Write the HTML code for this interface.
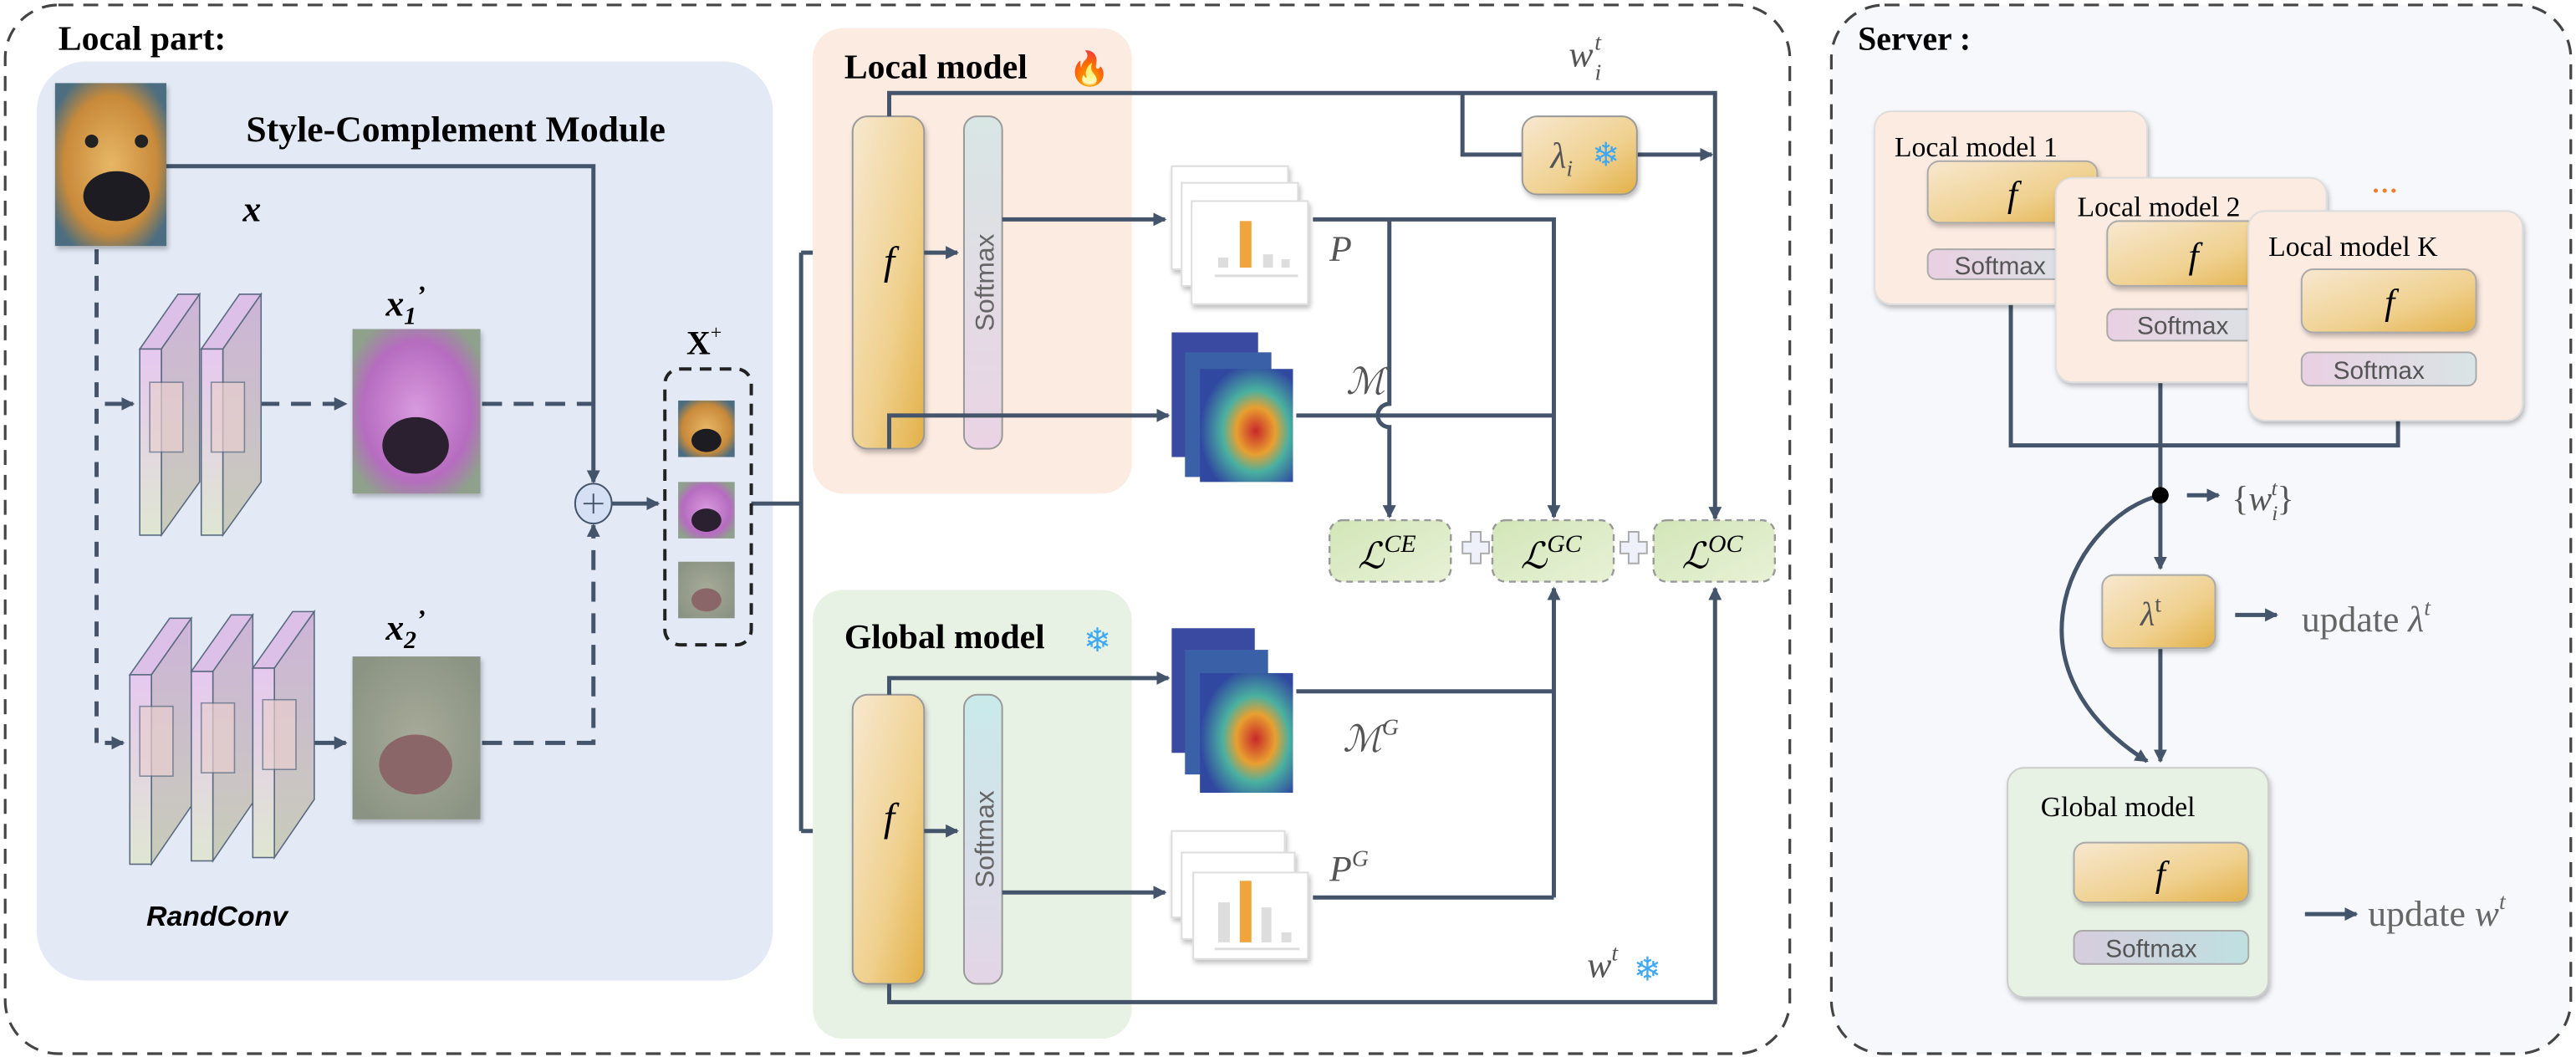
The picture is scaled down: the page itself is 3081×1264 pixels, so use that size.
<!DOCTYPE html>
<html><head><meta charset="utf-8"><style>
html,body{margin:0;padding:0;background:#fff;}
svg{display:block;}
</style></head><body>
<svg width="3081" height="1264" viewBox="0 0 1550 636" xmlns="http://www.w3.org/2000/svg" font-family="Liberation Serif, serif">
<defs>
<linearGradient id="gold" x1="0" y1="0" x2="1" y2="1"><stop offset="0" stop-color="#f7e8d0"/><stop offset="0.6" stop-color="#efd08e"/><stop offset="1" stop-color="#e3b048"/></linearGradient>
<linearGradient id="smL" x1="0" y1="0" x2="0" y2="1"><stop offset="0" stop-color="#d8e6e4"/><stop offset="1" stop-color="#ead3e4"/></linearGradient>
<linearGradient id="smG" x1="0" y1="0" x2="0" y2="1"><stop offset="0" stop-color="#c9eaea"/><stop offset="1" stop-color="#e3d5e6"/></linearGradient>
<linearGradient id="smH" x1="0" y1="0" x2="1" y2="0"><stop offset="0" stop-color="#e9d0e2"/><stop offset="1" stop-color="#d9e4e6"/></linearGradient>
<linearGradient id="smH2" x1="0" y1="0" x2="1" y2="0"><stop offset="0" stop-color="#d6cddd"/><stop offset="1" stop-color="#bfe0e0"/></linearGradient>
<linearGradient id="loss" x1="0" y1="0" x2="1" y2="1"><stop offset="0" stop-color="#d2e6b8"/><stop offset="1" stop-color="#e8f1d6"/></linearGradient>
<linearGradient id="slab" x1="0" y1="0" x2="0" y2="1"><stop offset="0" stop-color="#e6c8ef"/><stop offset="1" stop-color="#dfe6d2"/></linearGradient>
<linearGradient id="slabS" x1="0" y1="0" x2="0" y2="1"><stop offset="0" stop-color="#cdb4d8"/><stop offset="1" stop-color="#c8ccba"/></linearGradient>
<radialGradient id="dog" cx="0.5" cy="0.5" r="0.6"><stop offset="0" stop-color="#e7b766"/><stop offset="0.7" stop-color="#c88a3a"/><stop offset="1" stop-color="#4d6e80"/></radialGradient>
<radialGradient id="dogP" cx="0.5" cy="0.5" r="0.6"><stop offset="0" stop-color="#d99ade"/><stop offset="0.7" stop-color="#b66cc0"/><stop offset="1" stop-color="#8fa08c"/></radialGradient>
<radialGradient id="dogG" cx="0.5" cy="0.5" r="0.6"><stop offset="0" stop-color="#a7aa98"/><stop offset="1" stop-color="#8b9484"/></radialGradient>
<radialGradient id="heat" cx="0.6" cy="0.55" r="0.6"><stop offset="0" stop-color="#c8282a"/><stop offset="0.35" stop-color="#e8a030"/><stop offset="0.6" stop-color="#4ab0a0"/><stop offset="1" stop-color="#3048a0"/></radialGradient>
<marker id="ar" markerWidth="8" markerHeight="8" refX="7" refY="4" orient="auto" markerUnits="userSpaceOnUse"><path d="M0,0 L8,4 L0,8 z" fill="#44546a"/></marker>
<filter id="sh" x="-20%" y="-20%" width="140%" height="140%"><feDropShadow dx="1" dy="2" stdDeviation="1.5" flood-color="#000" flood-opacity="0.25"/></filter>
</defs>

<rect x="3" y="3" width="1074" height="631" rx="32" fill="#fff" stroke="#444" stroke-width="1.6" stroke-dasharray="9,6"/>
<rect x="1102" y="3" width="445" height="631" rx="32" fill="#f7f8fc" stroke="#444" stroke-width="1.6" stroke-dasharray="9,6"/>
<text x="35" y="30" font-size="21" font-weight="bold">Local part:</text>
<text x="1118" y="30" font-size="20" font-weight="bold">Server :</text>

<rect x="22" y="37" width="443" height="553" rx="30" fill="#e3e9f5"/>
<text x="148" y="85" font-size="22" font-weight="bold">Style-Complement Module</text>

<g stroke="#44546a" stroke-width="2.5" fill="none">
 <path d="M100,100 H357 V290" marker-end="url(#ar)"/>
 <path d="M58,150 V450" stroke-dasharray="9,7"/>
 <path d="M63,243 H80" marker-end="url(#ar)"/>
 <path d="M63,447 H74" marker-end="url(#ar)"/>
 <path d="M137,243 H208" stroke-dasharray="12,7" marker-end="url(#ar)"/>
 <path d="M290,243 H357" stroke-dasharray="12,7"/>
 <path d="M170,447 H208" marker-end="url(#ar)"/>
 <path d="M290,447 H357 V316" stroke-dasharray="12,7" marker-end="url(#ar)"/>
 <path d="M368,303 H396" marker-end="url(#ar)"/>
 <path d="M452,303 H482 M482,152 V500" />
 <path d="M482,152 H511" marker-end="url(#ar)"/>
 <path d="M482,500 H511" marker-end="url(#ar)"/>
</g>

<rect x="33" y="50" width="67" height="98" fill="url(#dog)" filter="url(#sh)"/>
<ellipse cx="70" cy="118" rx="20" ry="15" fill="#1c1c22"/>
<circle cx="55" cy="85" r="4" fill="#222"/><circle cx="85" cy="85" r="4" fill="#222"/>
<text x="146" y="133" font-size="22" font-weight="bold" font-style="italic">x</text>

<g stroke="#5a6a80" stroke-width="0.8">
 <g><path d="M84,210 L97,210 L120,177 L107,177 Z" fill="#dcc0e8"/><path d="M97,210 L120,177 L120,290 L97,322 Z" fill="url(#slabS)"/><rect x="84" y="210" width="13" height="112" fill="url(#slab)"/><rect x="90" y="230" width="20" height="42" fill="#e8cfcf" opacity="0.7"/></g>
 <g><path d="M121,210 L134,210 L157,177 L144,177 Z" fill="#dcc0e8"/><path d="M134,210 L157,177 L157,290 L134,322 Z" fill="url(#slabS)"/><rect x="121" y="210" width="13" height="112" fill="url(#slab)"/><rect x="127" y="230" width="20" height="42" fill="#e8cfcf" opacity="0.7"/></g>
</g>
<g stroke="#5a6a80" stroke-width="0.8">
 <g><path d="M78,406 L91,406 L115,372 L102,372 Z" fill="#dcc0e8"/><path d="M91,406 L115,372 L115,485 L91,520 Z" fill="url(#slabS)"/><rect x="78" y="406" width="13" height="114" fill="url(#slab)"/><rect x="84" y="425" width="20" height="42" fill="#e8cfcf" opacity="0.7"/></g>
 <g><path d="M115,404 L128,404 L152,370 L139,370 Z" fill="#dcc0e8"/><path d="M128,404 L152,370 L152,483 L128,518 Z" fill="url(#slabS)"/><rect x="115" y="404" width="13" height="114" fill="url(#slab)"/><rect x="121" y="423" width="20" height="42" fill="#e8cfcf" opacity="0.7"/></g>
 <g><path d="M152,402 L165,402 L189,368 L176,368 Z" fill="#dcc0e8"/><path d="M165,402 L189,368 L189,481 L165,516 Z" fill="url(#slabS)"/><rect x="152" y="402" width="13" height="114" fill="url(#slab)"/><rect x="158" y="421" width="20" height="42" fill="#e8cfcf" opacity="0.7"/></g>
</g>
<text x="88" y="557" font-size="17" font-weight="bold" font-style="italic" font-family="Liberation Sans, sans-serif">RandConv</text>

<rect x="212" y="198" width="77" height="99" fill="url(#dogP)" filter="url(#sh)"/>
<ellipse cx="250" cy="268" rx="20" ry="17" fill="#2a2030"/>
<text x="232" y="190" font-size="22" font-weight="bold" font-style="italic">x<tspan font-size="15" dy="5">1</tspan><tspan dy="-12" font-size="16">’</tspan></text>
<rect x="212" y="395" width="77" height="98" fill="url(#dogG)" filter="url(#sh)"/>
<ellipse cx="250" cy="460" rx="22" ry="18" fill="#8a6668"/>
<text x="232" y="385" font-size="22" font-weight="bold" font-style="italic">x<tspan font-size="15" dy="5">2</tspan><tspan dy="-12" font-size="16">’</tspan></text>

<ellipse cx="357" cy="303" rx="11" ry="12" fill="#d6e0f5" stroke="#44546a" stroke-width="1"/>
<path d="M351,303 H363 M357,297 V309" stroke="#44546a" stroke-width="1"/>

<text x="413" y="213" font-size="20" font-weight="bold">X<tspan font-size="12" dy="-9" font-weight="normal">+</tspan></text>
<rect x="400" y="222" width="52" height="166" rx="9" fill="none" stroke="#222" stroke-width="2" stroke-dasharray="7,5"/>
<rect x="408" y="241" width="34" height="34" fill="url(#dog)"/><ellipse cx="425" cy="265" rx="9" ry="7" fill="#1c1c22"/>
<rect x="408" y="290" width="34" height="34" fill="url(#dogP)"/><ellipse cx="425" cy="313" rx="9" ry="7" fill="#2a2030"/>
<rect x="408" y="338" width="34" height="34" fill="url(#dogG)"/><ellipse cx="425" cy="361" rx="9" ry="7" fill="#8a6668"/>

<rect x="489" y="17" width="192" height="280" rx="18" fill="#fcebe1"/>
<text x="508" y="47" font-size="21" font-weight="bold">Local model</text>
<text x="643" y="48" font-size="20">🔥</text>
<rect x="513" y="70" width="43" height="200" rx="9" fill="url(#gold)" stroke="#999" stroke-width="1" filter="url(#sh)"/>
<text x="535" y="165" font-size="24" font-style="italic" text-anchor="middle">f</text>
<rect x="580" y="70" width="23" height="200" rx="8" fill="url(#smL)" stroke="#999" stroke-width="1"/>
<text transform="translate(598,170) rotate(-90)" font-size="16" fill="#666" text-anchor="middle" font-family="Liberation Sans, sans-serif">Softmax</text>

<rect x="489" y="355" width="192" height="270" rx="18" fill="#e8f2e4"/>
<text x="508" y="390" font-size="21" font-weight="bold">Global model</text>
<text x="652" y="392" font-size="20" fill="#3fa8f0">❄</text>
<rect x="513" y="418" width="43" height="174" rx="9" fill="url(#gold)" stroke="#999" stroke-width="1" filter="url(#sh)"/>
<text x="535" y="500" font-size="24" font-style="italic" text-anchor="middle">f</text>
<rect x="580" y="418" width="23" height="174" rx="8" fill="url(#smG)" stroke="#999" stroke-width="1"/>
<text transform="translate(598,505) rotate(-90)" font-size="16" fill="#666" text-anchor="middle" font-family="Liberation Sans, sans-serif">Softmax</text>

<g stroke="#44546a" stroke-width="2.5" fill="none">
 <path d="M556,152 H576" marker-end="url(#ar)"/>
 <path d="M556,500 H576" marker-end="url(#ar)"/>
 <path d="M535,70 V56 H1032 V312" marker-end="url(#ar)"/>
 <path d="M880,56 V93 H916"/>
 <path d="M985,93 H1030" marker-end="url(#ar)"/>
 <path d="M603,132 H701" marker-end="url(#ar)"/>
 <path d="M790,132 H935 V311" marker-end="url(#ar)"/>
 <path d="M836,132 V243 A7,7 0 0 0 836,257 V311" marker-end="url(#ar)"/>
 <path d="M535,270 V250 H703" marker-end="url(#ar)"/>
 <path d="M780,250 H935"/>
 <path d="M535,418 V408 H703" marker-end="url(#ar)"/>
 <path d="M780,416 H935"/>
 <path d="M935,540 V354" marker-end="url(#ar)"/>
 <path d="M603,537 H701" marker-end="url(#ar)"/>
 <path d="M790,540 H935"/>
 <path d="M535,592 V603 H1032 V354" marker-end="url(#ar)"/>
</g>

<rect x="916" y="70" width="69" height="47" rx="9" fill="url(#gold)" stroke="#999" stroke-width="1" filter="url(#sh)"/>
<text x="933" y="101" font-size="22" font-style="italic" fill="#555">λ<tspan font-size="14" dy="5">i</tspan></text>
<text x="958" y="100" font-size="20" fill="#3fa8f0">❄</text>
<text x="944" y="40" font-size="22" font-style="italic" fill="#555">w<tspan font-size="14" dx="1" dy="8">i</tspan><tspan font-size="14" dx="-4" dy="-18">t</tspan></text>

<g stroke="#ddd" stroke-width="1" fill="#fff" filter="url(#sh)">
 <rect x="705" y="100" width="70" height="62"/><rect x="711" y="110" width="70" height="62"/><rect x="717" y="121" width="70" height="62"/>
</g>
<rect x="746" y="133" width="7" height="28" fill="#f0a43c"/><rect x="733" y="155" width="6" height="6" fill="#ddd"/><rect x="760" y="153" width="6" height="8" fill="#ddd"/><rect x="771" y="156" width="5" height="5" fill="#ddd"/>
<line x1="731" y1="166" x2="781" y2="166" stroke="#ddd" stroke-width="1.5"/>
<text x="800" y="157" font-size="22" font-style="italic" fill="#555">P</text>

<rect x="705" y="200" width="52" height="75" fill="#3a4aa0"/><rect x="713" y="212" width="52" height="75" fill="#3a60a8"/>
<rect x="722" y="222" width="56" height="68" fill="url(#heat)"/>
<text x="810" y="237" font-size="22" font-style="italic" fill="#555">ℳ</text>

<rect x="705" y="378" width="50" height="75" fill="#3a4aa0"/><rect x="713" y="391" width="50" height="75" fill="#3a60a8"/>
<rect x="722" y="405" width="56" height="72" fill="url(#heat)"/>
<text x="808" y="452" font-size="22" font-style="italic" fill="#555">ℳ<tspan font-size="14" dy="-10">G</tspan></text>

<g stroke="#ddd" stroke-width="1" fill="#fff" filter="url(#sh)">
 <rect x="705" y="500" width="68" height="52"/><rect x="711" y="513" width="68" height="52"/><rect x="718" y="525" width="69" height="52"/>
</g>
<rect x="733" y="543" width="7" height="24" fill="#ddd"/><rect x="746" y="530" width="7" height="37" fill="#f0a43c"/><rect x="759" y="546" width="6" height="21" fill="#ddd"/><rect x="771" y="561" width="6" height="6" fill="#ddd"/>
<line x1="731" y1="571" x2="782" y2="571" stroke="#ddd" stroke-width="1.5"/>
<text x="800" y="530" font-size="22" font-style="italic" fill="#555">P<tspan font-size="14" dy="-9">G</tspan></text>

<text x="955" y="588" font-size="22" font-style="italic" fill="#555">w<tspan font-size="14" dy="-10">t</tspan></text>
<text x="983" y="590" font-size="20" fill="#3fa8f0">❄</text>

<g stroke="#999" stroke-width="1.2" stroke-dasharray="4,3" fill="url(#loss)">
 <rect x="800" y="313" width="73" height="37" rx="8"/><rect x="898" y="313" width="73" height="37" rx="8"/><rect x="995" y="313" width="73" height="37" rx="8"/>
</g>
<text x="817" y="342" font-size="22" font-style="italic">ℒ<tspan font-size="15" dy="-10">CE</tspan></text>
<text x="915" y="342" font-size="22" font-style="italic">ℒ<tspan font-size="15" dy="-10">GC</tspan></text>
<text x="1012" y="342" font-size="22" font-style="italic">ℒ<tspan font-size="15" dy="-10">OC</tspan></text>
<path d="M880,326 h5 v-6 h6 v6 h5 v7 h-5 v6 h-6 v-6 h-5 z" fill="#eef0fa" stroke="#aaa" stroke-width="1"/>
<path d="M975,326 h5 v-6 h6 v6 h5 v7 h-5 v6 h-6 v-6 h-5 z" fill="#eef0fa" stroke="#aaa" stroke-width="1"/>

<g stroke="#44546a" stroke-width="2.5" fill="none">
 <path d="M1210,183 V268 H1443 V253"/>
 <path d="M1300,230 V342" marker-end="url(#ar)"/>
 <path d="M1300,390 V458" marker-end="url(#ar)"/>
 <path d="M1300,298 C1250,310 1200,400 1292,458" marker-end="url(#ar)"/>
 <path d="M1316,298 H1335" marker-end="url(#ar)"/>
 <path d="M1345,370 H1370" marker-end="url(#ar)"/>
 <path d="M1387,550 H1418" marker-end="url(#ar)"/>
</g>
<circle cx="1300" cy="298" r="5" fill="#000"/>

<rect x="1128" y="67" width="164" height="116" rx="10" fill="#fcebe1" stroke="#ddd" filter="url(#sh)"/>
<text x="1140" y="94" font-size="17">Local model 1</text>
<rect x="1160" y="97" width="102" height="37" rx="7" fill="url(#gold)" stroke="#aaa" filter="url(#sh)"/>
<text x="1211" y="124" font-size="22" font-style="italic" text-anchor="middle">f</text>
<rect x="1160" y="150" width="102" height="18" rx="5" fill="url(#smH)" stroke="#aaa"/>
<text x="1176" y="165" font-size="15" fill="#555" font-family="Liberation Sans, sans-serif">Softmax</text>

<rect x="1237" y="107" width="163" height="123" rx="10" fill="#fcebe1" stroke="#ddd" filter="url(#sh)"/>
<text x="1250" y="130" font-size="17">Local model 2</text>
<rect x="1268" y="133" width="102" height="39" rx="7" fill="url(#gold)" stroke="#aaa" filter="url(#sh)"/>
<text x="1320" y="161" font-size="22" font-style="italic" text-anchor="middle">f</text>
<rect x="1268" y="186" width="102" height="19" rx="5" fill="url(#smH)" stroke="#aaa"/>
<text x="1286" y="201" font-size="15" fill="#555" font-family="Liberation Sans, sans-serif">Softmax</text>

<text x="1427" y="120" font-size="16" fill="#f08030" font-weight="bold">···</text>

<rect x="1353" y="127" width="165" height="126" rx="10" fill="#fcebe1" stroke="#ddd" filter="url(#sh)"/>
<text x="1365" y="154" font-size="17">Local model K</text>
<rect x="1385" y="162" width="105" height="38" rx="7" fill="url(#gold)" stroke="#aaa" filter="url(#sh)"/>
<text x="1438" y="189" font-size="22" font-style="italic" text-anchor="middle">f</text>
<rect x="1385" y="212" width="105" height="20" rx="5" fill="url(#smH)" stroke="#aaa"/>
<text x="1404" y="228" font-size="15" fill="#555" font-family="Liberation Sans, sans-serif">Softmax</text>

<text x="1343" y="307" font-size="21" fill="#555">{<tspan font-style="italic">w</tspan><tspan font-size="13" font-style="italic" dy="6">i</tspan><tspan font-size="13" font-style="italic" dx="-4" dy="-15">t</tspan><tspan dy="9">}</tspan></text>

<rect x="1265" y="346" width="68" height="44" rx="7" fill="url(#gold)" stroke="#aaa" filter="url(#sh)"/>
<text x="1288" y="376" font-size="20" fill="#555"><tspan font-style="italic">λ</tspan><tspan font-size="14" dy="-8">t</tspan></text>
<text x="1385" y="380" font-size="22" fill="#666">update <tspan font-style="italic">λ</tspan><tspan font-size="14" font-style="italic" dy="-10">t</tspan></text>

<rect x="1208" y="462" width="157" height="138" rx="10" fill="#e8f2e4" stroke="#ccc" filter="url(#sh)"/>
<text x="1228" y="491" font-size="17">Global model</text>
<rect x="1248" y="507" width="105" height="36" rx="7" fill="url(#gold)" stroke="#aaa" filter="url(#sh)"/>
<text x="1300" y="533" font-size="22" font-style="italic" text-anchor="middle">f</text>
<rect x="1248" y="560" width="105" height="20" rx="5" fill="url(#smH2)" stroke="#aaa"/>
<text x="1267" y="576" font-size="15" fill="#555" font-family="Liberation Sans, sans-serif">Softmax</text>
<text x="1425" y="557" font-size="22" fill="#666">update <tspan font-style="italic">w</tspan><tspan font-size="14" font-style="italic" dy="-10">t</tspan></text>
</svg>
</body></html>
